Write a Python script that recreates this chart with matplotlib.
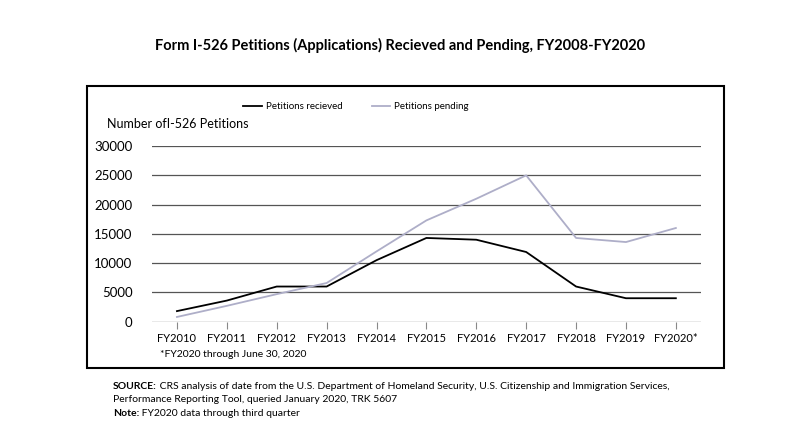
import matplotlib
matplotlib.use("Agg")
import matplotlib.pyplot as plt
from matplotlib.patches import Rectangle

plt.rcParams['font.family'] = ['Lato', 'DejaVu Sans']

years = ["FY2010", "FY2011", "FY2012", "FY2013", "FY2014", "FY2015",
         "FY2016", "FY2017", "FY2018", "FY2019", "FY2020*"]
received = [1800, 3600, 6000, 6000, 10500, 14300, 14000, 11900, 6000, 4000, 4000]
pending = [800, 2700, 4700, 6600, 12000, 17300, 21000, 25000, 14300, 13600, 16000]
yticks = [0, 5000, 10000, 15000, 20000, 25000, 30000]

fig = plt.figure(figsize=(8, 4.4), dpi=100)
fig.patch.set_facecolor("white")

# frame around chart
fig.patches.append(Rectangle((0.109, 0.164), 0.796, 0.641, transform=fig.transFigure,
                             fill=False, edgecolor="black", linewidth=1.5))

ax = fig.add_axes([0.19, 0.269, 0.686, 0.399])
x = list(range(len(years)))
ax.plot(x, received, color="black", lw=1.3, label="Petitions recieved")
ax.plot(x, pending, color="#aeaec8", lw=1.3, label="Petitions pending")

ax.set_xlim(-0.5, 10.5)
ax.set_ylim(0, 30000)
ax.set_yticks(yticks)
ax.set_yticklabels([str(v) for v in yticks], fontsize=9.5)
ax.set_xticks(x)
ax.set_xticklabels(years, fontsize=8)
for s in ax.spines.values():
    s.set_visible(False)
ax.yaxis.grid(True, color="#555555", lw=0.9)
ax.set_axisbelow(True)
ax.tick_params(axis="y", length=0, pad=14)
ax.tick_params(axis="x", length=5, color="#888888", width=0.8, pad=3)

ax.legend(loc="center", bbox_to_anchor=(0.445, 0.757), bbox_transform=fig.transFigure,
          ncol=2, frameon=False, fontsize=7, handlelength=1.9, columnspacing=3.0,
          handletextpad=0.4)

fig.text(0.134, 0.718, "Number ofI-526 Petitions", fontsize=9, va="center", ha="left")
fig.text(0.2, 0.195, "*FY2020 through June 30, 2020", fontsize=7.5, va="center", ha="left")

fig.text(0.5, 0.897, "Form I-526 Petitions (Applications) Recieved and Pending, FY2008-FY2020",
         fontsize=10.5, fontweight="bold", ha="center", va="center")

# source / note lines with bold lead words
fig.canvas.draw()
renderer = fig.canvas.get_renderer()
lines = [("SOURCE:", " CRS analysis of date from the U.S. Department of Homeland Security, U.S. Citizenship and Immigration Services,", 0.122),
         ("", "Performance Reporting Tool, queried January 2020, TRK 5607", 0.091),
         ("Note:", " FY2020 data through third quarter", 0.060)]
for bold, rest, yy in lines:
    xx = 0.141
    if bold:
        t = fig.text(xx, yy, bold, fontsize=7.5, fontweight="bold", va="center", ha="left")
        w = t.get_window_extent(renderer).width / fig.bbox.width
        xx += w
    fig.text(xx, yy, rest, fontsize=7.5, va="center", ha="left")

fig.savefig("out.png", dpi=100, facecolor="white")
